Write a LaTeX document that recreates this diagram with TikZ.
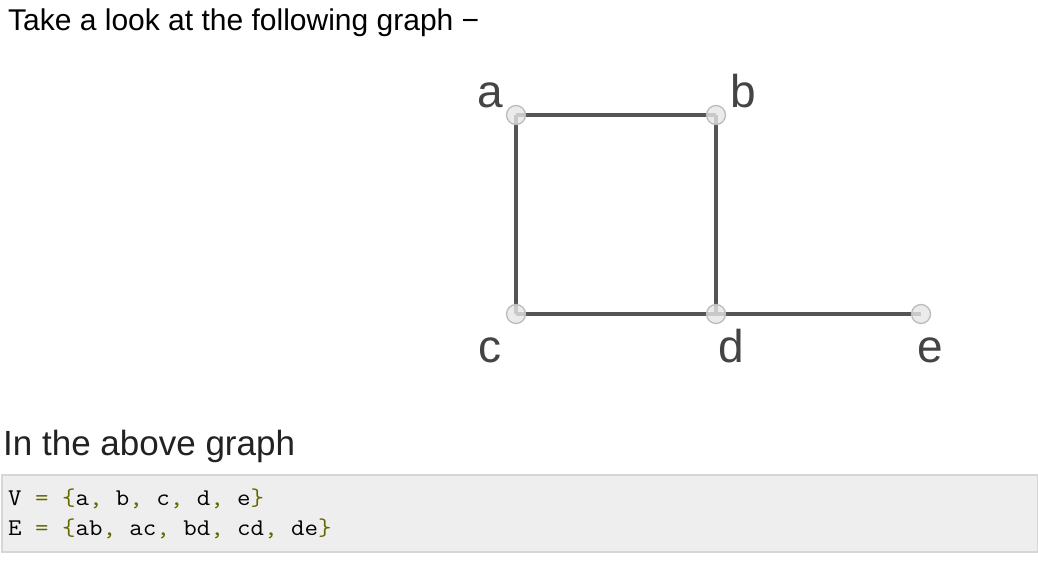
\documentclass[tikz,border=0pt]{standalone}
\usepackage{fontspec}
\setmainfont{Liberation Sans}
\newfontfamily\codefont{Latin Modern Mono}[FakeStretch=1.09]
\definecolor{edgec}{HTML}{555555}
\definecolor{vfill}{HTML}{E6E6E6}
\definecolor{vdraw}{HTML}{BBBBBB}
\definecolor{labc}{HTML}{444444}
\definecolor{codebg}{HTML}{EEEEEE}
\definecolor{codebd}{HTML}{D6D6D6}
\definecolor{olive}{HTML}{666600}
\definecolor{headc}{HTML}{222222}
\tikzset{
  vert/.style={circle,draw=vdraw,fill=vfill,fill opacity=0.8,line width=1.3pt,minimum size=19pt,inner sep=0pt},
  edge/.style={draw=edgec,line width=3.2pt},
  vlab/.style={text=labc,font=\fontsize{46}{46}\selectfont,inner sep=0pt,anchor=base},
  txt/.style={inner sep=0pt,anchor=base west},
  code/.style={txt,font=\codefont\fontsize{24}{24}\selectfont},
}
\begin{document}
\begin{tikzpicture}[x=1pt,y=-1pt]
\useasboundingbox (0,0) rectangle (1038,560);
\node[txt,font=\fontsize{30}{30}\selectfont] (t1) at (8,30) {Take a look at the following graph −};
% code box
\draw[codebd,fill=codebg,line width=2pt] (2,475) rectangle (1038,552);
% edges
\coordinate (pa) at (516,115);
\coordinate (pb) at (716,115);
\coordinate (pc) at (516,314);
\coordinate (pd) at (716,314);
\coordinate (pe) at (921,314);
\path[edge] (pa) -- (pb) (pa) -- (pc) (pb) -- (pd) (pc) -- (pd) (pd) -- (pe);
\node[vert] (a) at (pa) {};
\node[vert] (b) at (pb) {};
\node[vert] (c) at (pc) {};
\node[vert] (d) at (pd) {};
\node[vert] (e) at (pe) {};
\node[vlab] (la) at (490,107) {a};
\node[vlab] (lb) at (743,107) {b};
\node[vlab] (lc) at (490,362) {c};
\node[vlab] (ld) at (731,362) {d};
\node[vlab] (le) at (930,362) {e};
\node[txt,text=headc,font=\fontsize{35}{35}\selectfont] (t2) at (3,455) {In the above graph};
\node[code] (l1) at (8,505) {V \textcolor{olive}{= \{}a\textcolor{olive}{,} b\textcolor{olive}{,} c\textcolor{olive}{,} d\textcolor{olive}{,} e\textcolor{olive}{\}}};
\node[code] (l2) at (8,535) {E \textcolor{olive}{= \{}ab\textcolor{olive}{,} ac\textcolor{olive}{,} bd\textcolor{olive}{,} cd\textcolor{olive}{,} de\textcolor{olive}{\}}};
\end{tikzpicture}
\end{document}
